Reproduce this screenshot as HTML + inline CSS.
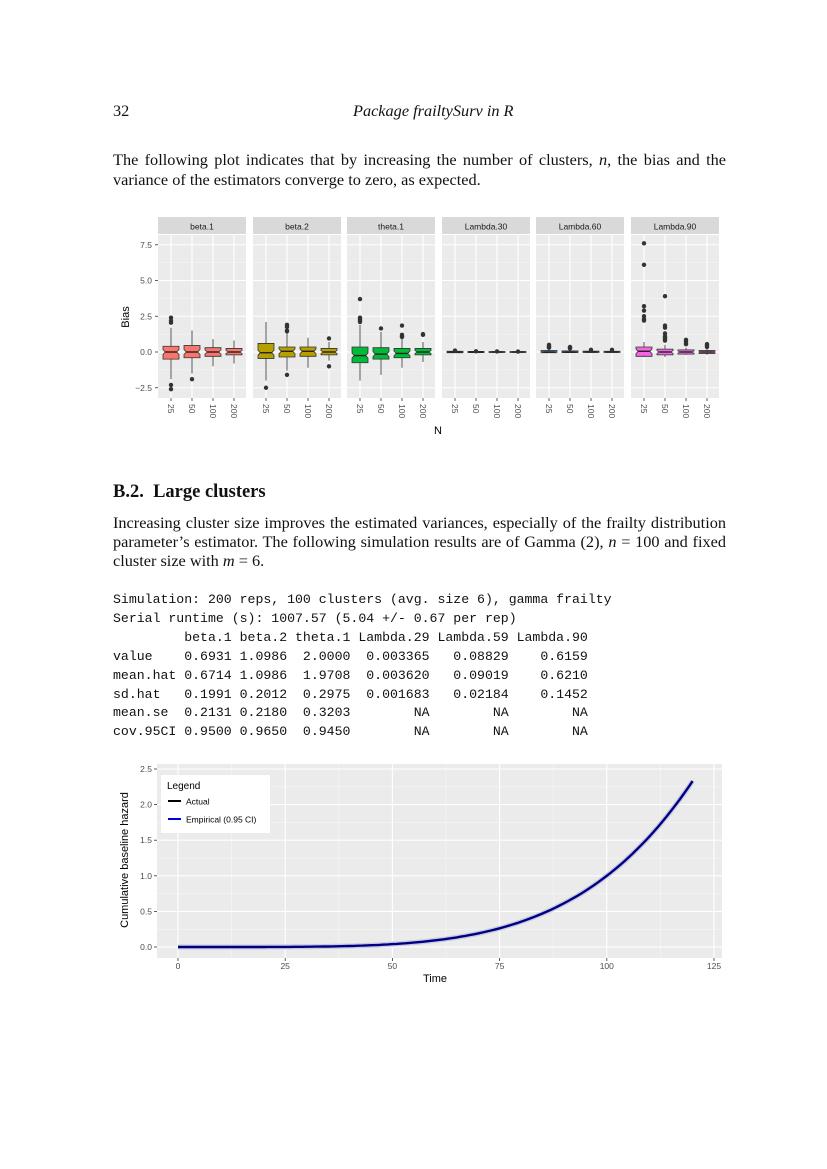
<!DOCTYPE html>
<html><head><meta charset="utf-8">
<style>
body{margin:0;background:#fff;}
#pg{position:relative;width:827px;height:1169px;overflow:hidden;background:#fff;}
.t{position:absolute;font-family:"Liberation Serif",serif;font-size:16.3px;color:#111;white-space:nowrap;}
.j{width:613px;text-align:justify;text-align-last:justify;white-space:normal;}
pre{position:absolute;margin:0;font-family:"Liberation Mono",monospace;font-size:13.2px;line-height:18.9px;color:#111;}
svg{position:absolute;left:0;top:0;}
</style></head><body><div id="pg">
<div class="t" style="left:113px;top:101px;">32</div>
<div class="t" style="left:353px;top:101px;font-style:italic;">Package frailtySurv in R</div>
<div class="t j" style="left:113px;top:150px;">The following plot indicates that by increasing the number of clusters, <i>n</i>, the bias and the</div>
<div class="t" style="left:113px;top:170px;">variance of the estimators converge to zero, as expected.</div>
<div class="t" style="left:113px;top:482px;font-weight:bold;font-size:18.5px;">B.2.&nbsp; Large clusters</div>
<div class="t j" style="left:113px;top:513px;">Increasing cluster size improves the estimated variances, especially of the frailty distribution</div>
<div class="t j" style="left:113px;top:532px;">parameter’s estimator. The following simulation results are of Gamma (2), <i>n</i> = 100 and fixed</div>
<div class="t" style="left:113px;top:551px;">cluster size with <i>m</i> = 6.</div>
<pre style="left:113px;top:591px;">Simulation: 200 reps, 100 clusters (avg. size 6), gamma frailty
Serial runtime (s): 1007.57 (5.04 +/- 0.67 per rep)
         beta.1 beta.2 theta.1 Lambda.29 Lambda.59 Lambda.90
value    0.6931 1.0986  2.0000  0.003365   0.08829    0.6159
mean.hat 0.6714 1.0986  1.9708  0.003620   0.09019    0.6210
sd.hat   0.1991 0.2012  0.2975  0.001683   0.02184    0.1452
mean.se  0.2131 0.2180  0.3203        NA        NA        NA
cov.95CI 0.9500 0.9650  0.9450        NA        NA        NA</pre>
<svg id="s" width="827" height="1169" font-family="Liberation Sans, sans-serif"></svg>
</div>
<script>
var s=document.getElementById('s'),h='';
var Y=function(v){return 352-v*14.3;};
var panels=[["beta.1",158,"#F8766D",[[-.5,0,.4,-1.9,1.7,[2.4,2.2,2.05,-2.3,-2.6]],[-.4,0,.45,-1.5,1.5,[-1.9]],[-.3,0,.3,-1,.9,[]],[-.2,0,.25,-.8,.8,[]]]],
["beta.2",253,"#B79F00",[[-.45,-.05,.6,-2,2.1,[-2.5]],[-.35,.05,.35,-1.3,1.4,[1.9,1.75,1.5,1.45,-1.6]],[-.3,.05,.35,-1.1,1,[]],[-.2,0,.25,-.6,.7,[.95,-1]]]],
["theta.1",347,"#00BA38",[[-.75,-.25,.35,-2,1.9,[3.7,2.4,2.3,2.2,2.1]],[-.5,-.15,.3,-1.6,1.4,[1.65]],[-.4,-.1,.25,-1.1,1,[1.85,1.2,1.1,1.05]],[-.2,0,.25,-.7,.7,[1.25,1.2]]]],
["Lambda.30",442,"#00BFC4",[[-.05,0,.05,-.08,.08,[.1]],[-.04,0,.04,-.06,.06,[.05]],[-.03,0,.03,-.05,.05,[.04]],[-.03,0,.03,-.04,.04,[.03]]]],
["Lambda.60",536,"#619CFF",[[-.05,0,.1,-.05,.2,[.5,.4,.35,.3]],[-.04,0,.08,-.04,.15,[.35,.3,.25]],[-.03,0,.06,-.03,.1,[.15]],[-.03,0,.05,-.03,.08,[.15]]]],
["Lambda.90",631,"#F564E3",[[-.3,.05,.35,-.35,.7,[7.6,6.1,3.2,2.9,2.5,2.3,2.2]],[-.2,0,.2,-.35,.5,[3.9,1.85,1.7,1.3,1.1,1,.9,.8]],[-.15,0,.15,-.2,.3,[.85,.75,.6,.55]],[-.1,0,.1,-.2,.2,[.55,.45,.35]]]]];
var labs=["25","50","100","200"];
panels.forEach(function(p){
 var x0=p[1],w=88;
 h+='<rect x="'+x0+'" y="217" width="'+w+'" height="17" fill="#d9d9d9"/>';
 h+='<text x="'+(x0+w/2)+'" y="229.5" font-size="8.5" fill="#1a1a1a" text-anchor="middle">'+p[0]+'</text>';
 h+='<rect x="'+x0+'" y="235" width="'+w+'" height="163" fill="#ebebeb"/>';
 [-1.25,1.25,3.75,6.25].forEach(function(v){h+='<line x1="'+x0+'" x2="'+(x0+w)+'" y1="'+Y(v)+'" y2="'+Y(v)+'" stroke="#f7f7f7" stroke-width="0.6"/>';});
 [-2.5,0,2.5,5,7.5].forEach(function(v){h+='<line x1="'+x0+'" x2="'+(x0+w)+'" y1="'+Y(v)+'" y2="'+Y(v)+'" stroke="#fff" stroke-width="1.1"/>';});
 p[3].forEach(function(b,i){
  var cx=x0+13+i*21;
  h+='<line x1="'+cx+'" x2="'+cx+'" y1="235" y2="398" stroke="#fff" stroke-width="1.1"/>';
  h+='<line x1="'+cx+'" x2="'+cx+'" y1="398" y2="401" stroke="#333" stroke-width="0.8"/>';
  h+='<text transform="translate('+(cx-3)+',404) rotate(90)" font-size="8.5" fill="#4d4d4d">'+labs[i]+'</text>';
 });
 p[3].forEach(function(b,i){
  var cx=x0+13+i*21,bw=16,col=p[2];
  h+='<line x1="'+cx+'" x2="'+cx+'" y1="'+Y(b[3])+'" y2="'+Y(b[4])+'" stroke="#333" stroke-width="0.8"/>';
  var t=Y(b[2]),bo=Y(b[0]),m=Y(b[1]),n=Math.min(2.5,(bo-t)/4),k=bw*0.36;
  h+='<path d="M'+(cx-bw/2)+','+t+'H'+(cx+bw/2)+'V'+(m-n)+'L'+(cx+k)+','+m+'L'+(cx+bw/2)+','+(m+n)+'V'+bo+'H'+(cx-bw/2)+'V'+(m+n)+'L'+(cx-k)+','+m+'L'+(cx-bw/2)+','+(m-n)+'Z" fill="'+col+'" stroke="#333" stroke-width="0.8"/>';
  h+='<line x1="'+(cx-k)+'" x2="'+(cx+k)+'" y1="'+m+'" y2="'+m+'" stroke="#222" stroke-width="1.4"/>';
  b[5].forEach(function(o){h+='<circle cx="'+cx+'" cy="'+Y(o)+'" r="2.2" fill="#333"/>';});
 });
});
[["7.5",7.5],["5.0",5],["2.5",2.5],["0.0",0],["\u22122.5",-2.5]].forEach(function(a){
 h+='<text x="152" y="'+(Y(a[1])+3)+'" font-size="8.5" fill="#4d4d4d" text-anchor="end">'+a[0]+'</text>';
 h+='<line x1="155" x2="158" y1="'+Y(a[1])+'" y2="'+Y(a[1])+'" stroke="#333" stroke-width="0.8"/>';
});
h+='<text transform="translate(129,317) rotate(-90)" font-size="11" fill="#000" text-anchor="middle">Bias</text>';
h+='<text x="438" y="434" font-size="11" text-anchor="middle">N</text>';
var X=function(t){return 178+t*4.288;},Y2=function(v){return 947-v*71.2;};
h+='<rect x="157" y="764" width="565" height="194" fill="#ebebeb"/>';
[.25,.75,1.25,1.75,2.25].forEach(function(v){h+='<line x1="157" x2="722" y1="'+Y2(v)+'" y2="'+Y2(v)+'" stroke="#f7f7f7" stroke-width="0.6"/>';});
[12.5,37.5,62.5,87.5,112.5].forEach(function(v){h+='<line y1="764" y2="958" x1="'+X(v)+'" x2="'+X(v)+'" stroke="#f7f7f7" stroke-width="0.6"/>';});
[0,.5,1,1.5,2,2.5].forEach(function(v){h+='<line x1="157" x2="722" y1="'+Y2(v)+'" y2="'+Y2(v)+'" stroke="#fff" stroke-width="1.1"/>';
 h+='<line x1="154" x2="157" y1="'+Y2(v)+'" y2="'+Y2(v)+'" stroke="#333" stroke-width="0.8"/>';
 h+='<text x="152" y="'+(Y2(v)+3)+'" font-size="8.5" fill="#4d4d4d" text-anchor="end">'+v.toFixed(1)+'</text>';});
[0,25,50,75,100,125].forEach(function(v){h+='<line y1="764" y2="958" x1="'+X(v)+'" x2="'+X(v)+'" stroke="#fff" stroke-width="1.1"/>';
 h+='<line y1="958" y2="961" x1="'+X(v)+'" x2="'+X(v)+'" stroke="#333" stroke-width="0.8"/>';
 h+='<text x="'+X(v)+'" y="969" font-size="8.5" fill="#4d4d4d" text-anchor="middle">'+v+'</text>';});
var d='';
for(var t=0;t<=120;t+=1){var v=Math.pow(t/100,4.64);d+=(t?'L':'M')+X(t).toFixed(1)+','+Y2(v).toFixed(1);}
h+='<path d="'+d+'" fill="none" stroke="#c8c8d8" stroke-width="5"/>';
h+='<path d="'+d+'" fill="none" stroke="#0000cc" stroke-width="2.4"/>';
h+='<path d="'+d+'" fill="none" stroke="#000040" stroke-width="1.4" opacity="0.8"/>';
h+='<rect x="161" y="775" width="109" height="58" fill="#fff"/>';
h+='<text x="167" y="789" font-size="10">Legend</text>';
h+='<line x1="168" x2="181" y1="801" y2="801" stroke="#000" stroke-width="2"/><text x="186" y="804.5" font-size="8.5">Actual</text>';
h+='<line x1="168" x2="181" y1="819" y2="819" stroke="#0000dd" stroke-width="2"/><text x="186" y="822.5" font-size="8.5">Empirical (0.95 CI)</text>';
h+='<text transform="translate(128,860) rotate(-90)" font-size="11" text-anchor="middle">Cumulative baseline hazard</text>';
h+='<text x="435" y="982" font-size="11" text-anchor="middle">Time</text>';
s.innerHTML=h;
</script>
</body></html>
